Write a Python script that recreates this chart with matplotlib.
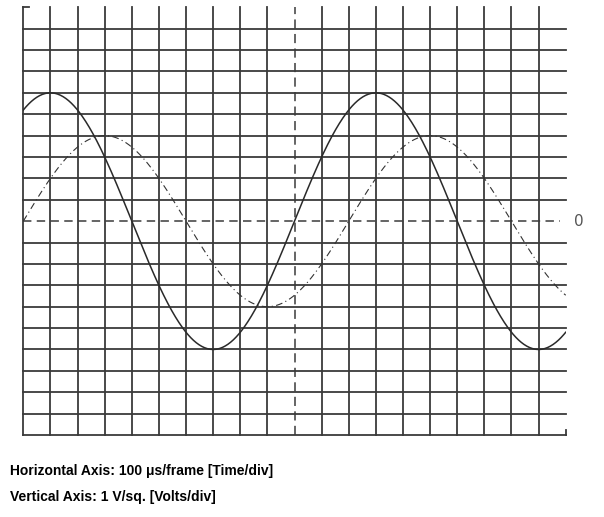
import numpy as np
import matplotlib.pyplot as plt

# scope screen: 20 x 20 divisions, zero in the middle
n_cols = 20
n_rows = 20

# waveforms (in divisions)
wave_names = ['solid', 'dashdot']
amplitudes = [6.0, 4.0]        # peak height
periods = [12.0, 12.0]         # divisions per cycle
peak_at = [1.0, 3.0]           # column of first peak

caption = ['Horizontal Axis: 100 \u03bcs/frame [Time/div]',
           'Vertical Axis: 1 V/sq. [Volts/div]']

fig = plt.figure(figsize=(6.04, 5.17), dpi=100)
ax = fig.add_axes([23.3 / 604, 82 / 517, 542.4 / 604, 427.7 / 517])
ax.set_xlim(0, n_cols)
ax.set_ylim(-n_rows / 2, n_rows / 2)
ax.axis('off')

grid_c = '#3a3a3a'
lw = 1.3

# vertical grid lines (col 20 only has a small stub at the bottom)
for c in range(n_cols):
    if c == n_cols // 2:
        ax.plot([c, c], [-10, 10], color=grid_c, lw=1.1,
                ls=(0, (6, 3.5)), clip_on=False)
    else:
        ax.plot([c, c], [-10, 10], color=grid_c, lw=lw, clip_on=False)
ax.plot([n_cols, n_cols], [-10, -9.75], color=grid_c, lw=lw, clip_on=False)

# horizontal grid lines (no line across the very top)
for r in range(-10, 10):
    if r == 0:
        ax.plot([0, 19.8], [0, 0], color=grid_c, lw=1.1,
                ls=(0, (5.5, 3.5)), clip_on=False)
    else:
        ax.plot([0, n_cols], [r, r], color=grid_c, lw=lw, clip_on=False)
ax.plot([0, 0.2], [10, 10], color=grid_c, lw=lw, clip_on=False)

ax.text(20.5, 0, '0', fontsize=11, color='#555555', va='center', ha='center')

# traces
x = np.linspace(0, n_cols, 600)
styles = {'solid': dict(ls='-', lw=1.1, color='#2a2a2a'),
          'dashdot': dict(ls=(0, (6, 3, 1, 3)), lw=0.8, color='#333333')}
for name, a, p, x0 in zip(wave_names, amplitudes, periods, peak_at):
    y = a * np.cos(2 * np.pi * (x - x0) / p)
    ax.plot(x, y, **styles[name])

fig.text(10 / 604, 1 - 471 / 517, caption[0], fontsize=10, fontweight='bold',
         family='Liberation Sans', va='center', ha='left')
fig.text(10 / 604, 1 - 497 / 517, caption[1], fontsize=10, fontweight='bold',
         family='Liberation Sans', va='center', ha='left')

fig.savefig('out.png', dpi=100, facecolor='white')
